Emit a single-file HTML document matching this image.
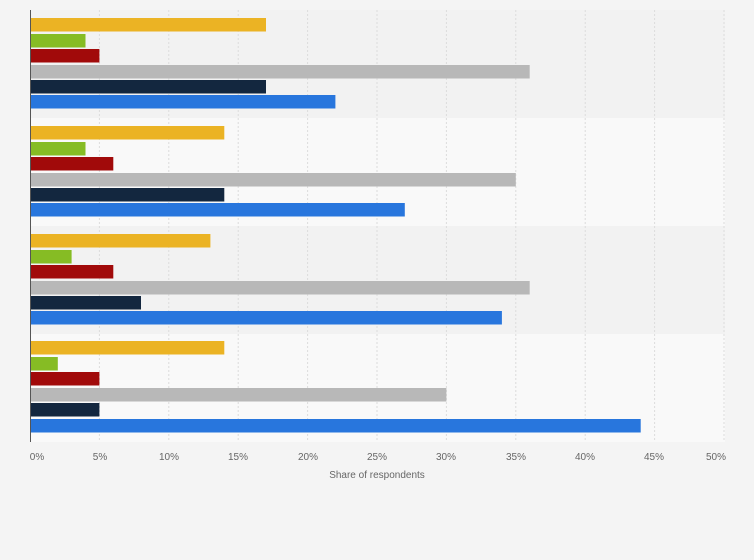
<!DOCTYPE html>
<html><head><style>body{margin:0;background:#f4f4f4}svg{display:block}</style></head><body>
<svg width="754" height="560" xmlns="http://www.w3.org/2000/svg" font-family="Liberation Sans, sans-serif">
<rect width="754" height="560" fill="#f4f4f4"/>
<rect x="30" y="10" width="695" height="108" fill="#f2f2f2"/>
<rect x="30" y="118" width="695" height="108" fill="#f9f9f9"/>
<rect x="30" y="226" width="695" height="108" fill="#f2f2f2"/>
<rect x="30" y="334" width="695" height="108" fill="#f9f9f9"/>
<g stroke="#dcdcdc" stroke-dasharray="2,2" stroke-width="1">
<line x1="99.4" y1="10" x2="99.4" y2="442"/><line x1="168.8" y1="10" x2="168.8" y2="442"/>
<line x1="238.2" y1="10" x2="238.2" y2="442"/><line x1="307.6" y1="10" x2="307.6" y2="442"/>
<line x1="377" y1="10" x2="377" y2="442"/><line x1="446.4" y1="10" x2="446.4" y2="442"/>
<line x1="515.8" y1="10" x2="515.8" y2="442"/><line x1="585.2" y1="10" x2="585.2" y2="442"/>
<line x1="654.6" y1="10" x2="654.6" y2="442"/><line x1="724" y1="10" x2="724" y2="442"/>
</g>
<g id="bars"></g>
<line x1="30.5" y1="10" x2="30.5" y2="442" stroke="#555" stroke-width="1"/>
<g font-size="10" fill="#666" text-anchor="middle">
<text x="37" y="460">0%</text><text x="100" y="460">5%</text><text x="169" y="460">10%</text>
<text x="238" y="460">15%</text><text x="308" y="460">20%</text><text x="377" y="460">25%</text>
<text x="446" y="460">30%</text><text x="516" y="460">35%</text><text x="585" y="460">40%</text>
<text x="654" y="460">45%</text><text x="716" y="460">50%</text>
<text x="377" y="478" fill="#666">Share of respondents</text>
</g>
<g>
<!-- group 1 -->
<rect x="30" y="18" width="236" height="13.5" fill="#ebb324"/>
<rect x="30" y="34" width="55.5" height="13.5" fill="#86bc24"/>
<rect x="30" y="49" width="69.4" height="13.5" fill="#a10a0a"/>
<rect x="30" y="65" width="499.7" height="13.5" fill="#b8b8b8"/>
<rect x="30" y="80" width="236" height="13.5" fill="#13273f"/>
<rect x="30" y="95" width="305.4" height="13.5" fill="#2876dd"/>
<!-- group 2 -->
<rect x="30" y="126" width="194.3" height="13.5" fill="#ebb324"/>
<rect x="30" y="142" width="55.5" height="13.5" fill="#86bc24"/>
<rect x="30" y="157" width="83.3" height="13.5" fill="#a10a0a"/>
<rect x="30" y="173" width="485.8" height="13.5" fill="#b8b8b8"/>
<rect x="30" y="188" width="194.3" height="13.5" fill="#13273f"/>
<rect x="30" y="203" width="374.8" height="13.5" fill="#2876dd"/>
<!-- group 3 -->
<rect x="30" y="234" width="180.4" height="13.5" fill="#ebb324"/>
<rect x="30" y="250" width="41.6" height="13.5" fill="#86bc24"/>
<rect x="30" y="265" width="83.3" height="13.5" fill="#a10a0a"/>
<rect x="30" y="281" width="499.7" height="13.5" fill="#b8b8b8"/>
<rect x="30" y="296" width="111" height="13.5" fill="#13273f"/>
<rect x="30" y="311" width="471.9" height="13.5" fill="#2876dd"/>
<!-- group 4 -->
<rect x="30" y="341" width="194.3" height="13.5" fill="#ebb324"/>
<rect x="30" y="357" width="27.8" height="13.5" fill="#86bc24"/>
<rect x="30" y="372" width="69.4" height="13.5" fill="#a10a0a"/>
<rect x="30" y="388" width="416.4" height="13.5" fill="#b8b8b8"/>
<rect x="30" y="403" width="69.4" height="13.5" fill="#13273f"/>
<rect x="30" y="419" width="610.7" height="13.5" fill="#2876dd"/>
</g>
<line x1="30.5" y1="10" x2="30.5" y2="442" stroke="#555" stroke-width="1"/>
</svg>
</body></html>
